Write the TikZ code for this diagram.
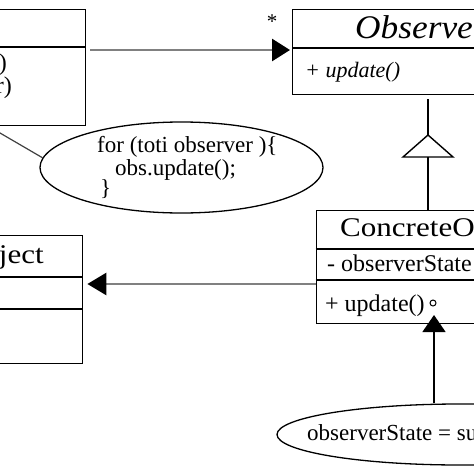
\documentclass[tikz,border=0pt]{standalone}
\usepackage{fontspec}
\setmainfont{Liberation Serif}
\newfontfamily\titlefont[FakeStretch=1.15]{Liberation Serif}
\newfontfamily\obsfont[FakeStretch=1.07]{Liberation Serif}
\usetikzlibrary{shapes.geometric,arrows.meta,calc}
\begin{document}
\begin{tikzpicture}[x=1pt,y=-1pt,
  box/.style={draw=black,line width=1.4pt,rectangle,inner sep=0pt,anchor=north west},
  divider/.style={draw=black,line width=1.4pt},
  notebox/.style={draw=black,line width=1.3pt,ellipse,inner sep=0pt},
  assoc/.style={draw=black!50,line width=2.8pt},
  thinline/.style={draw=black,line width=1.4pt},
  txt/.style={anchor=base west,inner sep=0pt},
  txte/.style={anchor=base east,inner sep=0pt},
  fbig/.style={font=\titlefont\fontsize{27}{27}\selectfont},
  fmid/.style={font=\fontsize{24}{24}\selectfont},
  fnote/.style={font=\fontsize{23}{23}\selectfont}
]
\useasboundingbox (0,0) rectangle (474,474);
\clip (0,0) rectangle (474,474);

% Subject (top-left, cut off)
\node[box,minimum width=125pt,minimum height=116pt] (subj) at (-40,9) {};
\draw[divider] ($(subj.north west)+(0,38)$) -- ($(subj.north east)+(0,38)$);
\node[txte,fmid] (m1) at (7,70) {)};
\node[txte,fmid] (m2) at (12,93) {r)};

% Observer
\node[box,minimum width=250pt,minimum height=85pt] (obs) at (292,9) {};
\draw[divider] ($(obs.north west)+(0,39)$) -- ($(obs.north east)+(0,39)$);
\node[txt,font=\obsfont\itshape\fontsize{33}{33}\selectfont] (obst) at (355,38) {Observe};
\node[txt,font=\fontsize{22}{22}\itshape] (obsu) at (305,77) {+ update()};

% ConcreteObserver
\node[box,minimum width=250pt,minimum height=113pt] (conc) at (315.7,210) {};
\draw[divider] ($(conc.north west)+(0,39)$) -- ($(conc.north east)+(0,39)$);
\draw[divider] ($(conc.north west)+(0,70)$) -- ($(conc.north east)+(0,70)$);
\node[txt,fbig] (conct) at (340,236) {ConcreteO};
\node[txt,fmid] (concs) at (327,271.5) {- observerState};
\node[txt,fmid] (concu) at (325,311.5) {+ update()};
\node[draw=black,circle,minimum size=6pt,inner sep=0pt,line width=1pt] (dot) at (433,303) {};

% Subject (bottom-left, cut off)
\node[box,minimum width=122pt,minimum height=128pt] (subj2) at (-40,235) {};
\draw[divider] ($(subj2.north west)+(0,42)$) -- ($(subj2.north east)+(0,42)$);
\draw[divider] ($(subj2.north west)+(0,74)$) -- ($(subj2.north east)+(0,74)$);
\node[txte,fbig] (subj2t) at (44,263) {ject};

% Notes
\node[notebox,minimum width=283pt,minimum height=91pt] (n1) at (181.5,167.5) {};
\node[txt,fnote] (n1a) at (97,152) {for (toti observer )\{};
\node[txt,fnote] (n1b) at (115,175) {obs.update();};
\node[txt,fnote] (n1c) at (100,195) {\}};

\node[notebox,minimum width=366pt,minimum height=61pt] (n2) at (460,434.5) {};
\node[txt,fnote] (n2a) at (307,440) {observerState = su};

% multiplicity
\node[font=\fontsize{21}{21}\selectfont,inner sep=0pt] (star) at (272,22) {*};

% association Subject -> Observer
\coordinate (obsin) at ($(obs.north west)+(-2,41)$);
\draw[assoc,-{Triangle[length=18pt,width=22pt,color=black]}]
  ($(subj.north east)+(4,41)$) -- (obsin);

% association ConcreteObserver -> Subject
\draw[assoc,-{Triangle[length=19pt,width=22pt,color=black]}]
  ($(conc.north west)+(0,74)$) -- ($(subj2.north east)+(4,49)$);

% generalization
\coordinate (gtip) at (428,135);
\coordinate (gbase) at (428,157);
\draw[thinline] ($(obs.south west)+(136,4)$) -- (gtip);
\draw[thinline,fill=white] (gtip) -- (453,157) -- (403,157) -- cycle;
\draw[thinline] (gbase) -- (conc.north -| gbase);

% note anchor line to update()
\coordinate (updtip) at (434,315);
\draw[thinline,-{Triangle[length=17pt,width=23pt]}] (n2.north -| updtip) -- (updtip);

% note line to Subject
\coordinate (subjnote) at (-12,126);
\draw[draw=black!75,line width=1.2pt] (n1.176) -- (subjnote);
\end{tikzpicture}
\end{document}
